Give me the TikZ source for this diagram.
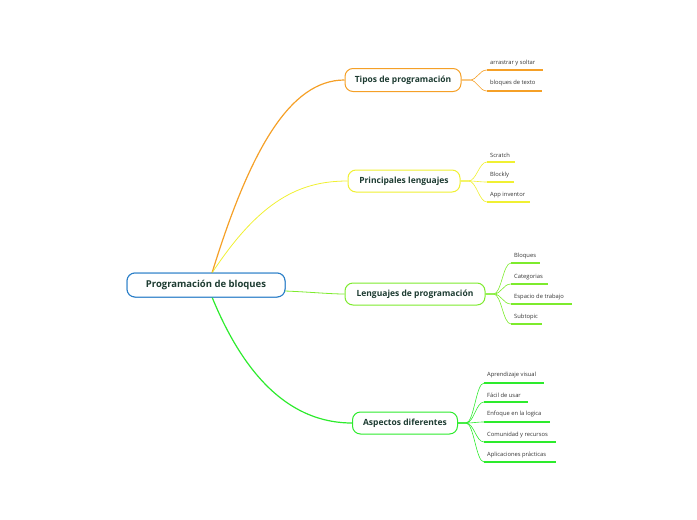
\documentclass[tikz,border=0pt]{standalone}
\usepackage{fontspec}
\setmainfont{Open Sans}
\usetikzlibrary{calc}
\definecolor{corange}{HTML}{F5A027}
\definecolor{cyellow}{HTML}{F0F032}
\definecolor{clime}{HTML}{7DEB2D}
\definecolor{cgreen}{HTML}{2DEB2D}
\definecolor{cblue}{HTML}{2B7FC8}
\definecolor{ctext}{HTML}{1E3C32}
\begin{document}
\begin{tikzpicture}[x=1pt,y=-1pt,
  mainbox/.style={draw=#1,line width=1pt,rounded corners=8pt,fill=white,font=\bfseries\fontsize{8.5}{9}\selectfont,text=ctext,inner xsep=0pt,inner ysep=0pt},
  leaf/.style={font=\fontsize{5.8}{6}\selectfont,text=black!80,anchor=west,inner sep=0pt},
  uline/.style={draw=#1,line width=1.3pt},
  lk/.style={draw=#1,line width=0.6pt}]
\useasboundingbox (0,0) rectangle (697,520);
\node[mainbox=cblue,minimum width=158pt,minimum height=24pt,font=\bfseries\fontsize{9.5}{10}\selectfont] (c) at (206,285) {Programación de bloques};
\node[mainbox=corange,minimum width=116pt,minimum height=23pt] (t) at (403,80) {Tipos de programación};
\node[mainbox=cyellow,minimum width=112pt,minimum height=22pt] (p) at (404,181) {Principales lenguajes};
\node[mainbox=clime,minimum width=140pt,minimum height=22pt] (l) at (415,294) {Lenguajes de programación};
\node[mainbox=cgreen,minimum width=105pt,minimum height=22pt] (a) at (405,423) {Aspectos diferentes};
\coordinate (c0) at (212,273);
\coordinate (c1) at (212,297);
\coordinate (c2) at (285,291);
\draw[corange,line width=1.2pt] (c0) .. controls (250,150) and (290,80) .. (t.west);
\draw[cyellow,line width=0.8pt] (c0) .. controls (260,200) and (300,181) .. (p.west);
\draw[clime,line width=0.8pt] (c2) .. controls (310,292) and (330,294) .. (l.west);
\draw[cgreen,line width=1.2pt] (c1) .. controls (250,390) and (300,423) .. (a.west);
\node[mainbox=cblue,minimum width=158pt,minimum height=24pt,font=\bfseries\fontsize{9.5}{10}\selectfont] at (206,285) {Programación de bloques};
% name, parent, y text, y line, x end, color, x start, text
\newcommand{\lf}[8]{%
  \node[leaf] (#1) at (#7+3,#3) {#8};
  \coordinate (#1e) at (#5,#4);
  \coordinate (#1s) at (#7,#4);
  \draw[uline=#6] (#1s) -- (#1e);
  \draw[lk=#6] (#2.east) -- ++(8,0) .. controls ($(#2.east)+(16,0)$) and ($(#1s)+(-8,0)$) .. (#1s);
}
\lf{t1}{t}{63}{70}{543}{corange}{487}{arrastrar y soltar}
\lf{t2}{t}{83}{91}{542}{corange}{487}{bloques de texto}
\lf{p1}{p}{155}{162}{515}{cyellow}{487}{Scratch}
\lf{p2}{p}{175}{182}{514}{cyellow}{487}{Blockly}
\lf{p3}{p}{195}{202}{530}{cyellow}{487}{App inventor}
\lf{l1}{l}{256}{263}{540}{clime}{511}{Bloques}
\lf{l2}{l}{277}{284}{548}{clime}{511}{Categorias}
\lf{l3}{l}{297}{304}{572}{clime}{511}{Espacio de trabajo}
\lf{l4}{l}{317}{324}{542}{clime}{511}{Subtopic}
\lf{a1}{a}{375}{383}{544}{cgreen}{484}{Aprendizaje visual}
\lf{a2}{a}{395}{402}{528}{cgreen}{484}{Fácil de usar}
\lf{a3}{a}{414}{422}{550}{cgreen}{484}{Enfoque en la logica}
\lf{a4}{a}{435}{442}{556}{cgreen}{484}{Comunidad y recursos}
\lf{a5}{a}{455}{462}{556}{cgreen}{484}{Aplicaciones prácticas}
\end{tikzpicture}
\end{document}
